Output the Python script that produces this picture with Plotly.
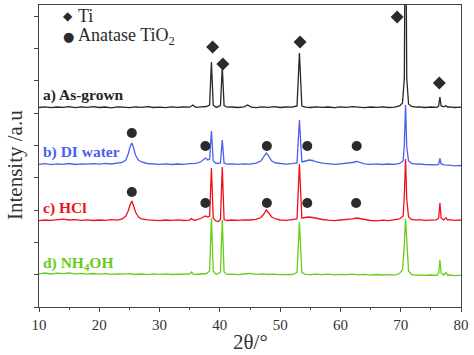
import plotly.graph_objects as go

# ---------------- data (2θ in degrees, intensity in arbitrary units above each baseline) -------------
black_x = [10, 11, 12, 13, 14, 15, 16, 17, 18, 19, 20, 21, 22, 23, 24, 25, 26, 27, 28, 29, 30, 31, 32, 33, 34, 35, 35.5, 36, 37, 37.8,
           38.3, 38.6, 38.9, 39.4, 40.1, 40.4, 40.7, 41.2, 42, 43, 44, 44.6, 45.2, 46, 47, 48, 49, 50, 51, 52, 52.8, 53.2, 53.6, 54.2,
           55, 56, 57, 58, 59, 60, 61, 62, 63, 64, 65, 66, 67, 68, 69, 69.8, 70.3, 70.6, 70.8, 71.0, 71.3, 71.8, 72.5, 73, 74, 75, 76,
           76.3, 76.5, 76.7, 77.2, 77.5, 77.8, 78, 79, 80]
black_y = [0.5, 1.2, 0.3, 1.0, 0.6, 1.4, 0.4, 1.1, 0.7, 1.3, 0.5, 1.0, 0.2, 1.2, 0.8, 0.4, 1.1, 0.6, 1.3, 0.5, 0.9, 0.3, 1.2, 0.6, 1.0, 0.8, 3, 0.7, 1.1, 1.5,
           3, 46, 3, 0.6, 2.5, 41, 2.5, 0.8, 1.0, 0.5, 1.2, 3, 0.9, 0.4, 1.1, 0.7, 1.3, 0.5, 1.0, 0.8, 2, 55, 2, 0.9,
           0.5, 1.2, 0.6, 1.0, 0.4, 1.1, 0.7, 1.3, 0.8, 0.4, 1.0, 0.6, 1.2, 0.5, 0.9, 2, 5, 30, 250, 30, 4, 1.5, 0.8, 1.2, 0.5, 1.0, 0.7,
           2, 11, 2, 1.2, 2.5, 0.8, 1.1, 0.5, 0.9]

blue_x = [10, 11, 12, 13, 14, 15, 16, 17, 18, 19, 20, 21, 22, 23, 23.8, 24.4, 24.8, 25.1, 25.4, 25.7, 26.0, 26.5, 27, 28, 29, 30, 31, 32,
          33, 34, 35, 36, 36.8, 37.3, 37.6, 38.0, 38.3, 38.6, 38.9, 39.4, 40.1, 40.4, 40.7, 41.2, 42, 43, 44, 45, 46, 46.8, 47.3, 47.7,
          48.1, 48.6, 49.3, 50, 51, 52, 52.8, 53.2, 53.6, 54.2, 54.8, 55.4, 56, 57, 58, 59, 60, 61, 62, 62.7, 63.4, 64, 65, 66, 67, 68,
          69, 69.8, 70.4, 70.6, 70.8, 71.0, 71.3, 71.8, 72.5, 73, 74, 75, 76, 76.3, 76.5, 76.7, 77.2, 78, 79, 80]
blue_y = [0.6, 1.3, 0.4, 1.1, 0.7, 1.5, 0.5, 1.2, 0.8, 1.4, 0.9, 1.6, 1.0, 1.8, 2.5, 5, 11, 18, 22, 17, 10, 5, 3, 1.5, 1.0, 0.6, 1.2, 0.5,
          1.0, 0.7, 1.3, 1.6, 3, 6, 7, 5, 6, 34, 4, 1.5, 2, 25, 2, 0.8, 1.1, 0.6, 1.2, 0.9, 1.8, 4, 8, 12,
          9, 4, 2, 1.2, 0.8, 1.4, 2, 45, 3, 4, 5, 4.5, 3, 1.8, 1.0, 0.6, 1.2, 1.5, 2.5, 3.5, 2.5, 1.2, 0.7, 1.1, 0.5, 1.0,
          0.7, 1.5, 4, 20, 60, 18, 4, 1.5, 0.8, 1.2, 0.5, 0.6, 0.2, 1.0, 6.5, 1.0, 0.2, -0.2, -0.8, -0.5]

red_x = [10, 11, 12, 13, 14, 15, 16, 17, 18, 19, 20, 21, 22, 23, 23.8, 24.4, 24.8, 25.1, 25.4, 25.7, 26.0, 26.5, 27, 28, 29, 30, 31, 32,
         33, 34, 35, 35.3, 35.6, 36, 36.8, 37.3, 37.6, 38.0, 38.3, 38.6, 38.9, 39.3, 39.7, 40.1, 40.4, 40.7, 41.2, 42, 43, 44, 45, 46,
         46.8, 47.3, 47.7, 48.1, 48.6, 49.3, 50, 51, 52, 52.8, 53.2, 53.6, 54.2, 54.8, 55.4, 56, 57, 58, 59, 60, 61, 62, 62.7, 63.4,
         64, 65, 66, 67, 68, 69, 69.8, 70.4, 70.6, 70.8, 71.0, 71.3, 71.8, 72.5, 73, 74, 75, 75.9, 76.3, 76.5, 76.7, 77.1, 77.5, 77.8,
         78, 79, 80]
red_y = [0.3, 1.0, 0.6, 1.4, 1.8, 1.0, 1.3, 0.7, 1.2, 0.5, 1.0, 0.6, 1.3, 0.9, 2, 5, 10, 16, 20, 15, 9, 4, 2.2, 1.2, 0.8, 0.4, 1.0, 0.6,
         1.1, 0.5, 0.9, 2.5, 0.8, 1.0, 2.5, 4.5, 5, 4, 5, 53, 3, 0.2, -0.5, 1.5, 54, 1.5, 0.5, 1.0, 0.6, 1.2, 1.0, 1.6,
         3.5, 7, 11, 8, 4, 2, 1.0, 0.7, 1.2, 2, 57, 3, 3.5, 4, 3.5, 2.5, 1.5, 0.8, 0.4, 1.0, 1.3, 2.2, 3, 2.2,
         1.0, 0.5, 0.2, 0.8, 0.4, 1.0, 2, 5, 25, 62, 22, 4, 1.5, 0.8, 1.3, 0.6, 1.0, 1.2, 3, 18, 3, 1.0, 3, 0.9,
         1.3, 0.7, 1.0]

green_x = [10, 11, 12, 13, 14, 15, 16, 17, 18, 19, 20, 21, 22, 23, 24, 25, 26, 27, 28, 29, 30, 31, 32, 33, 34, 35, 35.3, 35.6, 36, 37,
           37.8, 38.3, 38.6, 38.9, 39.4, 40.1, 40.4, 40.7, 41.2, 42, 43, 44, 45, 46, 47, 48, 49, 50, 51, 52, 52.8, 53.2, 53.6, 54.2,
           55, 56, 57, 58, 59, 60, 61, 62, 63, 64, 65, 66, 67, 68, 69, 69.8, 70.3, 70.55, 70.8, 71.05, 71.3, 71.8, 72.5, 73, 74, 75,
           76, 76.3, 76.5, 76.7, 77.1, 77.5, 77.8, 78, 79, 80]
green_y = [1.2, 2.0, 1.0, 1.8, 1.3, 2.1, 1.1, 1.7, 0.8, 1.5, 0.9, 1.4, 0.6, 1.2, 0.8, 1.3, 0.5, 1.0, 0.4, 1.1, 0.7, 1.2, 0.5, 0.9, 0.6, 1.0, 3, 0.8, 0.5, 1.0,
           1.5, 4, 57, 4, 0.5, 3, 55, 3, 0.6, 0.9, 0.4, 1.0, 1.6, 0.7, 1.1, 0.5, 0.9, 0.4, 0.8, 0.5, 2.5, 53, 2.5, 0.7,
           0.3, 0.9, 0.4, 0.8, 0.2, 0.7, 0.3, 0.8, 0.2, 0.6, -0.1, 0.5, 0.0, 0.4, -0.2, 1.5, 5, 25, 56, 22, 4, 0.5, -0.3, 0.2, -0.4, 0.0,
           -0.3, 2, 15, 2, 0.0, 2.5, -0.2, 0.0, -0.6, -0.4]

series_names = ["a) As-grown", "b) DI water", "c) HCl", "d) NH<sub>4</sub>OH"]
series_offsets = [199, 142, 86, 32]
series_colors = ["#262626", "#4a60ec", "#f0101c", "#66cc1a"]

# Phase markers (2θ, height on the stacked scale)
ti_mark_x = [38.8, 40.5, 53.3, 69.4, 76.4]
ti_mark_y = [260, 243, 265, 290, 224]
anatase_mark_x = [25.4, 37.6, 47.8, 54.5, 62.7, 25.4, 37.6, 47.8, 54.5, 62.6]
anatase_mark_y = [174, 161, 161, 161, 161, 115, 104, 104, 104, 104]

legend_labels = ["Ti", "Anatase TiO<sub>2</sub>"]

x_title = "2θ/°"
y_title = "Intensity /a.u"

# ---------------- figure -------------
serif = "Liberation Serif"
fig = go.Figure()

all_series = [(black_x, black_y), (blue_x, blue_y), (red_x, red_y), (green_x, green_y)]
# draw bottom pattern first so upper patterns sit on top
for i in [3, 2, 1, 0]:
    xs, ys = all_series[i]
    off = series_offsets[i]
    fig.add_trace(go.Scatter(
        x=xs, y=[v + off for v in ys], mode="lines",
        line=dict(color=series_colors[i], width=1.3),
        showlegend=False, hoverinfo="skip"))

fig.add_trace(go.Scatter(x=ti_mark_x, y=ti_mark_y, mode="markers",
                         marker=dict(symbol="diamond", size=10, color="#2b2b2b"),
                         showlegend=False, cliponaxis=False))
fig.add_trace(go.Scatter(x=anatase_mark_x, y=anatase_mark_y, mode="markers",
                         marker=dict(symbol="circle", size=10, color="#2b2b2b"),
                         showlegend=False))

# series labels
label_x = 10.3
for i, name in enumerate(series_names):
    fig.add_annotation(x=label_x, y=series_offsets[i] + 13 - (1 if i == 3 else 0), xref="x", yref="y",
                       text="<b>" + name + "</b>", showarrow=False, xanchor="left", yanchor="middle",
                       font=dict(family=serif, size=15.5, color=series_colors[i]))

# legend (symbol + text)
leg_sym = ["◆", "●"]
leg_sizes = [12, 13]
for k in range(2):
    yy = 1 - (11 + 20.5 * k) / 302
    fig.add_annotation(x=(68 - 39) / 422, y=yy, xref="paper", yref="paper", text=leg_sym[k],
                       showarrow=False, xanchor="center", yanchor="middle",
                       font=dict(family="DejaVu Sans", size=leg_sizes[k], color="#2b2b2b"))
    fig.add_annotation(x=(76 - 39) / 422, y=yy, xref="paper", yref="paper", text=legend_labels[k],
                       showarrow=False, xanchor="left", yanchor="middle",
                       font=dict(family=serif, size=18, color="#2b2b2b"))

# axis titles
fig.add_annotation(x=-24 / 422, y=1 - (165 - 5) / 302, xref="paper", yref="paper", text=y_title,
                   textangle=-90, showarrow=False, xanchor="center", yanchor="middle",
                   font=dict(family=serif, size=21, color="#333333"))
fig.add_annotation(x=0.5, y=-(342 - 307) / 302, xref="paper", yref="paper", text=x_title,
                   showarrow=False, xanchor="center", yanchor="middle",
                   font=dict(family=serif, size=21, color="#333333"))

fig.update_layout(
    width=474, height=355,
    margin=dict(l=39, r=13, t=5, b=48, autoexpand=False),
    paper_bgcolor="white", plot_bgcolor="white",
    font=dict(family=serif, color="#333333"),
    showlegend=False,
)
fig.update_xaxes(
    range=[10, 80], tick0=10, dtick=10, ticks="outside", ticklen=4, tickwidth=1.2, tickcolor="#444",
    minor=dict(dtick=5, ticks="outside", ticklen=2, tickcolor="#444"),
    showline=True, linecolor="#444", linewidth=1.3, mirror=True, showgrid=False, zeroline=False,
    tickfont=dict(family=serif, size=15, color="#333333"), automargin=False,
)
fig.update_yaxes(
    range=[0, 302], tick0=0, dtick=32.3, ticks="outside", ticklen=4, tickwidth=1.2, tickcolor="#444",
    showticklabels=False, showline=True, linecolor="#444", linewidth=1.3, mirror=True,
    showgrid=False, zeroline=False, automargin=False,
)

fig.write_html("out.html", config={"displayModeBar": False},
               post_script="document.body.style.margin='0';document.body.style.padding='0';")
